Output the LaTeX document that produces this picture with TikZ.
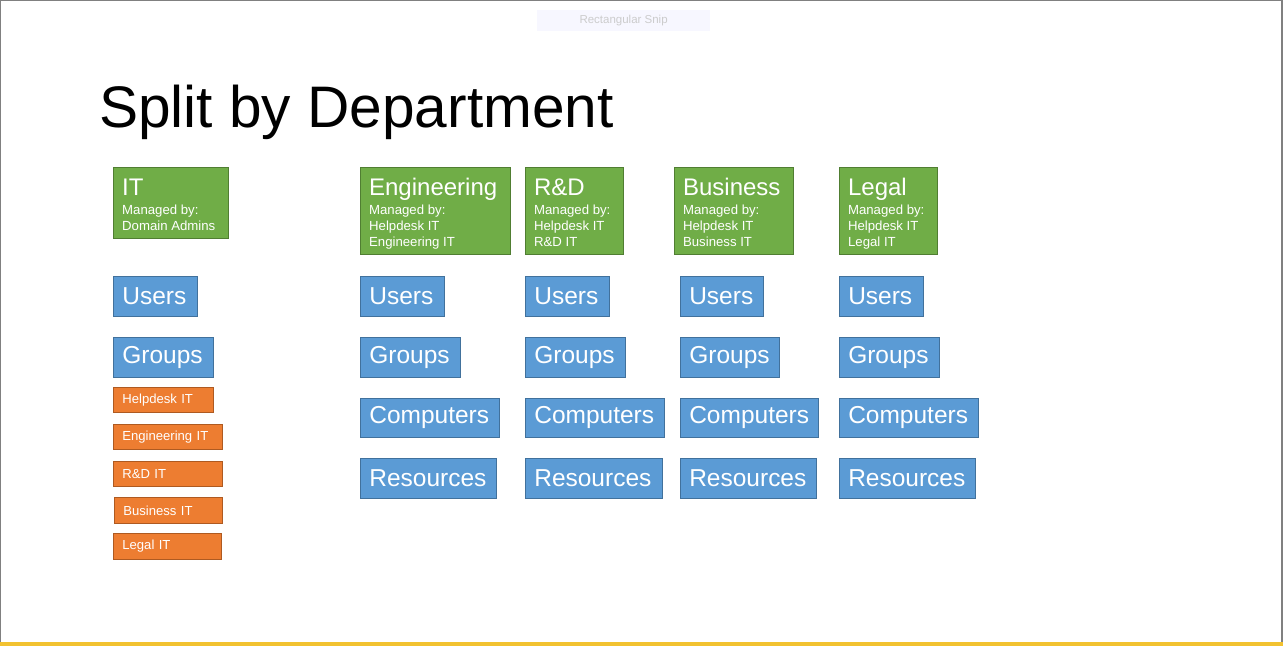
\documentclass[tikz,border=0pt]{standalone}
\usepackage{fontspec}
\setmainfont{Liberation Sans}
\definecolor{gfill}{HTML}{70AD47}\definecolor{gline}{HTML}{507E32}
\definecolor{bfill}{HTML}{5B9BD5}\definecolor{bline}{HTML}{41719C}
\definecolor{ofill}{HTML}{ED7D31}\definecolor{oline}{HTML}{AE5A21}
\definecolor{goldbar}{RGB}{242,194,48}
\tikzset{
 box/.style={draw, line width=0.8pt, anchor=north west, inner sep=0pt, text=white},
 gbox/.style={box, fill=gfill, draw=gline},
 bbox/.style={box, fill=bfill, draw=bline, font=\fontsize{24.5}{28}\selectfont},
 obox/.style={box, fill=ofill, draw=oline, font=\fontsize{13.1}{15}\selectfont},
 gtext/.style={anchor=north west, inner sep=0pt, text=white, align=left, font=\fontsize{13.2}{16}\selectfont},
}
\newcommand{\bx}[7]{% style name x1 y1 x2 y2 text
 \pgfmathsetmacro\ww{#5-#3}\pgfmathsetmacro\hh{#6-#4}\pgfmathsetmacro\tw{#5-#3-18}
 \node[#1, minimum width=\ww pt, minimum height=\hh pt, text width=\tw pt, inner xsep=9pt, align=left] (#2) at (#3,#4) {#7};}
\begin{document}
\begin{tikzpicture}[x=1pt,y=-1pt]
\fill[white] (0,0) rectangle (1283,647);
\draw[gray, line width=1.5pt] (0.75,642) -- (0.75,0.75) -- (1282.25,0.75) -- (1282.25,642);
\node[fill=goldbar, draw=none, minimum width=1283pt, minimum height=4pt, inner sep=0pt, anchor=north west] (bar) at (0,642) {};
\node[fill=blue!3, minimum width=173pt, minimum height=21pt, anchor=north west, inner sep=0pt, text=black!20, font=\fontsize{11.5}{13}\selectfont] (snip) at (537,10) {Rectangular Snip};
\node[anchor=base west, inner sep=0pt, font=\fontsize{58.6}{66}\selectfont] (title) at (99,128) {Split by Department};
% green headers
\foreach \n/\xa/\xb/\yb/\t/\m in {it/113/228/238/IT/{Domain Admins},eng/360/510/254/Engineering/{Helpdesk IT\\Engineering IT},rd/525/623/254/R\&D/{Helpdesk IT\\R\&D IT},bus/674/793/254/Business/{Helpdesk IT\\Business IT},leg/839/937/254/Legal/{Helpdesk IT\\Legal IT}}{
 \pgfmathsetmacro\ww{\xb-\xa}\pgfmathsetmacro\hh{\yb-167}
 \node[gbox, minimum width=\ww pt, minimum height=\hh pt] (h\n) at (\xa,167) {};
 \node[gtext, anchor=base west] (n\n) at (\xa+9,196) {\fontsize{24}{26}\selectfont\t};
 \node[gtext, anchor=north west] (t\n) at (\xa+9,204.5) {Managed by:\\\m};
}
% blue boxes
\foreach \n/\a/\b/\c in {it/113/197/213,eng/360/444/460,rd/525/609/625,bus/680/763/779,leg/839/923/939}{
 \bx{bbox}{u\n}{\a}{276}{\b}{316}{Users}
 \bx{bbox}{g\n}{\a}{337}{\c}{377}{Groups}
}
\foreach \n/\a/\b/\c in {eng/360/499/496,rd/525/664/662,bus/680/818/816,leg/839/978/975}{
 \bx{bbox}{c\n}{\a}{398}{\b}{437}{Computers}
 \bx{bbox}{r\n}{\a}{458}{\c}{498}{Resources}
}
% orange
\bx{obox}{o1}{113}{387}{213}{412}{Helpdesk IT}
\bx{obox}{o2}{113}{424}{222}{449}{Engineering IT}
\bx{obox}{o3}{113}{461}{222}{486}{R\&D IT}
\bx{obox}{o4}{114}{497}{222}{523}{Business IT}
\bx{obox}{o5}{113}{533}{221}{559}{Legal IT}
\useasboundingbox (0,0) rectangle (1283,647);
\end{tikzpicture}
\end{document}
